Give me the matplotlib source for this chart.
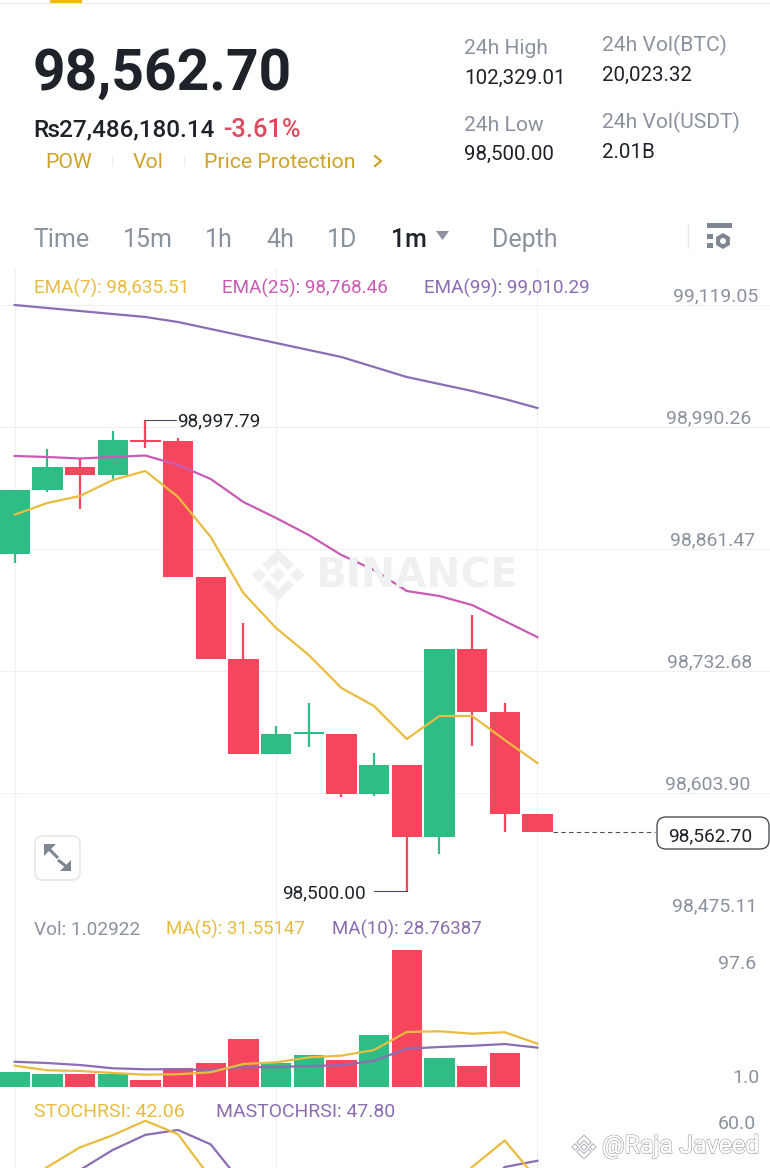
#!/usr/bin/env python3
# Phone screenshot of a BTC 1m candle chart: header text, candles + EMAs, volume, stoch rsi
import matplotlib
matplotlib.use("Agg")
import matplotlib.pyplot as plt
import matplotlib.patheffects as pe
from matplotlib.patches import FancyBboxPatch, Polygon, Circle, Rectangle, RegularPolygon
from matplotlib.transforms import blended_transform_factory

# ----- data ------------------------------------------------------------
opens = [98856.19, 98923.75, 98948.03, 98939.59, 98976.54, 98975.48, 98831.91, 98745.34, 98645.06,
         98666.18, 98666.18, 98602.84, 98633.45, 98557.40, 98755.90, 98689.40, 98581.73]
highs = [98923.75, 98967.04, 98957.53, 98986.04, 98997.79, 98978.65, 98831.91, 98783.35, 98674.62,
         98698.90, 98666.18, 98646.11, 98633.45, 98755.90, 98791.80, 98698.90, 98581.73]
lows = [98846.69, 98921.64, 98903.70, 98933.26, 98968.09, 98831.91, 98745.34, 98645.06, 98645.06,
        98652.45, 98599.67, 98600.73, 98500.00, 98539.50, 98653.50, 98562.70, 98562.70]
closes = [98923.75, 98948.03, 98939.59, 98976.54, 98974.43, 98831.91, 98745.34, 98645.06, 98666.18,
          98668.29, 98602.84, 98633.45, 98557.40, 98755.90, 98689.40, 98581.73, 98562.70]

ema7 = [98897.68, 98910.03, 98917.42, 98934.31, 98943.81, 98916.36, 98874.14, 98814.92, 98778.08,
        98749.57, 98714.73, 98695.72, 98660.90, 98685.20, 98685.20, 98659.80, 98635.51]
ema25 = [98959.65, 98958.59, 98957.01, 98958.59, 98960.17, 98950.15, 98935.37, 98911.09, 98894.19,
         98876.25, 98855.14, 98839.30, 98817.13, 98811.85, 98802.35, 98785.46, 98768.46]
ema99 = [99119.05, 99115.88, 99112.72, 99109.55, 99106.38, 99101.10, 99093.71, 99086.32, 99078.93,
         99071.55, 99064.16, 99053.60, 99043.04, 99035.65, 99028.26, 99019.82, 99010.29]

volumes = [11.4, 10.4, 10.4, 10.4, 5.7, 14.6, 17.9, 34.8, 18.1, 23.3, 20.0, 37.7, 97.6, 21.4, 15.8, 24.8, 1.03]
ma5 = [16.0, 12.8, 12.3, 10.9, 9.7, 10.0, 11.4, 17.2, 18.4, 21.9, 23.1, 27.1, 39.8, 40.3, 38.6, 39.6, 31.55]
ma10 = [18.8, 17.9, 16.5, 14.2, 13.5, 13.5, 13.0, 14.9, 15.1, 15.8, 16.3, 19.5, 28.0, 29.2, 30.1, 31.3, 28.76]

stochrsi = [38.9, 45.9, 51.9, 55.6, 60.0, 55.9, 42.5, 30.0, 22.0, 18.0, 15.0, 14.0, 20.0, 34.3, 45.9, 54.0, 42.06]
mastochrsi = [31.2, 37.3, 45.0, 51.1, 55.7, 57.2, 52.8, 40.4, 30.0, 24.0, 20.0, 17.0, 16.0, 22.0, 36.0, 45.9, 47.80]

price_ticks = [99119.05, 98990.26, 98861.47, 98732.68, 98603.90, 98475.11]
price_tick_right = [758, 751, 755, 752, 750, 757]   # labels wander a bit in the screenshot

# ----- colours ----------------------------------------------------------
GREEN = "#2EBD85"
RED = "#F6465D"
YELLOW = "#E8BC3F"
MAGENTA = "#C95BB4"
PURPLE = "#8B6DB3"
GREY = "#8A929E"
DARK = "#1E2329"
GOLD = "#CDA429"
GRID = "#EEF0F2"
ICON = "#7F8792"

W, H = 770, 1168
CANDLE_X0, CANDLE_STEP = 14.7, 32.67
plt.rcParams["font.family"] = ["Roboto", "DejaVu Sans"]


def px(size):
    """font size in pixels -> points at dpi 100"""
    return size * 0.72


def panel(fig, top, bottom):
    ax = fig.add_axes([0, 1 - bottom / H, 1, (bottom - top) / H])
    ax.set_xlim(-CANDLE_X0 / CANDLE_STEP, (W - CANDLE_X0) / CANDLE_STEP)
    ax.set_xticks([0, 8, 16])
    ax.grid(True, color=GRID, lw=0.8)
    ax.set_axisbelow(True)
    ax.tick_params(length=0, labelleft=False, labelbottom=False)
    for s in ax.spines.values():
        s.set_visible(False)
    return ax


def logo(ax, cx, cy, r, **kw):
    """binance diamond mark"""
    c = r * 0.27
    for dx, dy in [(0, 0), (-r * 0.74, 0), (r * 0.74, 0)]:
        ax.add_patch(Polygon([(cx + dx - c, cy + dy), (cx + dx, cy + dy - c),
                              (cx + dx + c, cy + dy), (cx + dx, cy + dy + c)], closed=True, **kw))
    for sign in (-1, 1):
        ax.add_patch(Polygon([(cx - r * 0.6, cy + sign * r * 0.4), (cx, cy + sign * r), (cx + r * 0.6, cy + sign * r * 0.4),
                              (cx + r * 0.38, cy + sign * r * 0.18), (cx, cy + sign * r * 0.56), (cx - r * 0.38, cy + sign * r * 0.18)],
                             closed=True, **kw))


def main():
    fig = plt.figure(figsize=(W / 100, H / 100), dpi=100, facecolor="white")

    # ----- candle panel -------------------------------------------------
    ax = panel(fig, 268, 915)
    ax.set_ylim(98475.11, 99158.11)
    ax.set_yticks(price_ticks)
    xs = list(range(len(opens)))
    colors = [GREEN if c >= o else RED for o, c in zip(opens, closes)]
    ax.vlines(xs, lows, highs, colors=colors, lw=1.6, zorder=2)
    ax.bar(xs, [c - o for o, c in zip(opens, closes)], bottom=opens, width=0.93, color=colors, zorder=3)
    ax.plot(xs, ema99, color=PURPLE, lw=1.6, zorder=4)
    ax.plot(xs, ema25, color=MAGENTA, lw=1.6, zorder=4)
    ax.plot(xs, ema7, color=YELLOW, lw=1.6, zorder=4)

    # high / low callouts and last price line
    hi = highs.index(max(highs))
    lo = lows.index(min(lows))
    ax.plot([hi, hi + 0.95], [highs[hi], highs[hi]], color="#4A4F57", lw=0.8, zorder=2)
    ax.plot([lo - 1.0, lo], [lows[lo], lows[lo]], color="#4A4F57", lw=0.8, zorder=2)
    ax.plot([xs[-1] + 0.47, 19.6], [closes[-1], closes[-1]], color="#4A4F57", lw=0.8, ls=(0, (4, 3)), zorder=2)
    ax.annotate(f"{highs[hi]:,.2f}", (hi + 0.98, highs[hi]), xytext=(0, -1.2), textcoords="offset points",
                color=DARK, fontsize=px(19), va="center", zorder=6)
    ax.annotate(f"{lows[lo]:,.2f}", (lo - 1.25, lows[lo]), xytext=(0, -1.2), textcoords="offset points",
                color=DARK, fontsize=px(19), va="center", ha="right", zorder=6)

    trans = blended_transform_factory(fig.transFigure, ax.transData)
    for tick, right in zip(price_ticks, price_tick_right):
        ax.annotate(f"{tick:,.2f}", (right / W, tick), xycoords=trans, xytext=(0, -0.4), textcoords="offset points",
                    ha="right", va="bottom", color=GREY, fontsize=px(19.4), annotation_clip=False)

    # ----- volume panel -------------------------------------------------
    vax = panel(fig, 915, 1087)
    vax.set_ylim(1.0, 122.3)
    vax.set_yticks([1.0])
    vax.bar(xs, volumes, width=0.93, color=colors, zorder=3)
    vax.plot(xs, ma10, color=PURPLE, lw=1.6, zorder=4)
    vax.plot(xs, ma5, color=YELLOW, lw=1.6, zorder=4)

    # ----- stoch rsi panel ----------------------------------------------
    sax = panel(fig, 1087, 1168)
    sax.set_ylim(45.6, 70.3)
    sax.set_yticks([])
    sax.plot(xs, mastochrsi, color=PURPLE, lw=1.6, zorder=4)
    sax.plot(xs, stochrsi, color=YELLOW, lw=1.6, zorder=4)

    # ----- overlay in screen pixels for all the app chrome --------------
    ov = fig.add_axes([0, 0, 1, 1], facecolor="none", zorder=10)
    ov.set_xlim(0, W)
    ov.set_ylim(H, 0)
    ov.axis("off")

    def txt(x, y, s, size, color=GREY, **kw):
        # y is the visual middle of the glyphs, va=center sits a little high
        ov.text(x, y + 1.6, s, fontsize=px(size), color=color, va="center", **kw)

    ov.add_patch(Rectangle((0, 2.5), W, 1.2, color="#E9EBEE", lw=0))
    ov.add_patch(Rectangle((50, 0), 32, 2.8, color="#F0B90B", lw=0))

    txt(33, 72.5, "98,562.70", 57, DARK, fontweight="bold")
    txt(33, 128, "₨27,486,180.14", 24.2, DARK, fontweight="medium")
    txt(223, 128, "-3.61%", 25.5, "#DD4A5E", fontweight="medium")
    txt(45, 161, "POW", 21.3, GOLD)
    txt(133, 161, "Vol", 21.3, GOLD)
    txt(204, 161, "Price Protection", 21.3, GOLD)
    ov.plot([375, 381, 375], [156, 161, 166], color=GOLD, lw=1.6)
    ov.plot([112, 112], [156, 165], color="#EEEFF1", lw=1)
    ov.plot([184, 184], [156, 165], color="#EEEFF1", lw=1)

    txt(464, 47, "24h High", 21)
    txt(464, 77, "102,329.01", 20.5, DARK)
    txt(464, 124, "24h Low", 21)
    txt(464, 153, "98,500.00", 20.5, DARK)
    txt(602, 44, "24h Vol(BTC)", 21)
    txt(602, 74, "20,023.32", 20.5, DARK)
    txt(602, 121, "24h Vol(USDT)", 21)
    txt(602, 151, "2.01B", 20.5, DARK)

    for x, label in [(33, "Time"), (123, "15m"), (205, "1h"), (266, "4h"), (327, "1D"), (492, "Depth")]:
        txt(x, 238, label, 25)
    txt(391, 238, "1m", 25, DARK, fontweight="medium")
    ov.add_patch(Polygon([(436, 231), (449, 231), (442.5, 240)], closed=True, color="#8C939E", lw=0))
    ov.plot([688, 688], [224, 248], color="#E8EAED", lw=1)

    # settings icon
    ov.add_patch(Rectangle((707, 223), 25, 5, color=ICON, lw=0))
    ov.add_patch(Rectangle((707, 234), 6, 4.5, color=ICON, lw=0))
    ov.add_patch(Rectangle((707, 243), 6, 4.5, color=ICON, lw=0))
    ov.add_patch(RegularPolygon((723, 241), 6, radius=8, color=ICON, lw=0))
    ov.add_patch(Circle((723, 241), 3, color="white", lw=0))

    txt(34, 287, "EMA(7): 98,635.51", 18.9, YELLOW)
    txt(222, 287, "EMA(25): 98,768.46", 18.9, MAGENTA)
    txt(424, 287, "EMA(99): 99,010.29", 18.9, PURPLE)

    txt(34, 928, "Vol: 1.02922", 19)
    txt(166, 928, "MA(5): 31.55147", 18.7, YELLOW)
    txt(332, 928, "MA(10): 28.76387", 18.7, PURPLE)
    txt(756, 962, "97.6", 19.5, ha="right")
    txt(760, 1076, "1.0", 19.5, ha="right")
    txt(34, 1110, "STOCHRSI: 42.06", 19.5, YELLOW)
    txt(216, 1110, "MASTOCHRSI: 47.80", 19.4, PURPLE)
    txt(756, 1122, "60.0", 19.5, ha="right")

    # last price pill
    ov.add_patch(FancyBboxPatch((663, 823), 100, 20, boxstyle="round,pad=6,rounding_size=9",
                                fc="white", ec="#3A3F47", lw=0.9))
    txt(710.5, 835, f"{closes[-1]:,.2f}", 19.2, DARK, ha="center")

    # expand button
    ov.add_patch(FancyBboxPatch((41, 842), 33, 32, boxstyle="round,pad=6,rounding_size=8",
                                fc="white", ec="#E6E8EB", lw=1.2))
    ov.plot([49, 58], [849, 858], color=ICON, lw=2.2, solid_capstyle="butt")
    ov.plot([58, 67], [860, 867], color=ICON, lw=2.2, solid_capstyle="butt")
    ov.add_patch(Polygon([(44, 844), (56, 844), (44, 856)], closed=True, color=ICON, lw=0))
    ov.add_patch(Polygon([(71, 871), (60, 871), (71, 860)], closed=True, color=ICON, lw=0))

    # watermarks
    logo(ov, 278, 575, 26, color="#EEF0F1", lw=0)
    ov.text(315, 576.5, "BINANCE", fontsize=px(40.5), color="#EEF0F1", va="center",
            family="DejaVu Sans", fontweight="bold")
    logo(ov, 584, 1147, 12, fc="none", ec="#A9ADB3", lw=0.7)
    ov.text(602, 1146, "@Raja Javeed", fontsize=px(25), color="white", va="center",
            path_effects=[pe.withStroke(linewidth=1.2, foreground="#A9ADB3"), pe.Normal()])

    fig.savefig("out.png", dpi=100, facecolor="white")


if __name__ == "__main__":
    main()
